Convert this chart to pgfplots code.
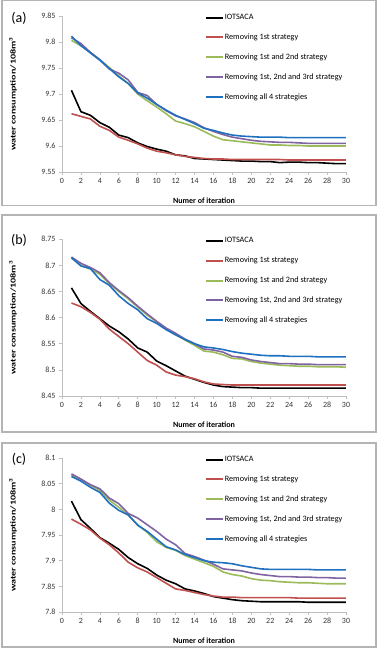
\documentclass[border=0pt]{standalone}
\usepackage{fontspec}
\setmainfont{Carlito}
\usepackage{pgfplots}
\pgfplotsset{compat=1.18}
\usepackage{pgfplotstable}
\definecolor{cRed}{HTML}{C0504D}
\definecolor{cGreen}{HTML}{9BBB59}
\definecolor{cPurple}{HTML}{8064A2}
\definecolor{cBlue}{HTML}{2070C0}
\definecolor{frameGray}{HTML}{B4B4B4}
\definecolor{axGray}{HTML}{BFBFBF}

\pgfplotstableread{
it k r g p b
1 9.707 9.662 9.803 9.808 9.811
2 9.666 9.657 9.793 9.797 9.793
3 9.659 9.652 9.780 9.780 9.779
4 9.645 9.638 9.766 9.766 9.765
5 9.636 9.630 9.751 9.748 9.749
6 9.621 9.617 9.735 9.740 9.733
7 9.616 9.611 9.720 9.727 9.720
8 9.606 9.604 9.700 9.703 9.702
9 9.599 9.596 9.687 9.697 9.692
10 9.594 9.590 9.675 9.680 9.680
11 9.590 9.587 9.662 9.668 9.669
12 9.583 9.583 9.648 9.658 9.659
13 9.581 9.580 9.643 9.652 9.651
14 9.576 9.578 9.637 9.645 9.643
15 9.575 9.576 9.628 9.635 9.634
16 9.574 9.575 9.619 9.628 9.630
17 9.573 9.575 9.612 9.622 9.625
18 9.572 9.574 9.610 9.617 9.621
19 9.571 9.574 9.608 9.614 9.619
20 9.571 9.574 9.606 9.611 9.618
21 9.570 9.574 9.604 9.609 9.617
22 9.570 9.574 9.602 9.608 9.617
23 9.568 9.574 9.602 9.607 9.617
24 9.569 9.573 9.601 9.607 9.616
25 9.569 9.573 9.601 9.606 9.616
26 9.568 9.573 9.600 9.605 9.616
27 9.568 9.573 9.600 9.605 9.616
28 9.567 9.573 9.600 9.605 9.616
29 9.566 9.573 9.600 9.605 9.616
30 9.566 9.573 9.600 9.605 9.616
}\dataA

\pgfplotstableread{
it k r g p b
1 8.657 8.628 8.714 8.716 8.715
2 8.627 8.621 8.700 8.704 8.699
3 8.612 8.610 8.693 8.696 8.694
4 8.598 8.597 8.683 8.686 8.673
5 8.584 8.578 8.665 8.667 8.662
6 8.573 8.564 8.650 8.652 8.642
7 8.559 8.550 8.636 8.638 8.627
8 8.542 8.534 8.620 8.622 8.615
9 8.534 8.518 8.605 8.607 8.598
10 8.517 8.509 8.592 8.593 8.589
11 8.508 8.496 8.579 8.580 8.577
12 8.498 8.490 8.568 8.570 8.567
13 8.488 8.487 8.557 8.559 8.558
14 8.482 8.483 8.547 8.550 8.550
15 8.476 8.477 8.536 8.540 8.544
16 8.471 8.473 8.534 8.538 8.542
17 8.468 8.472 8.529 8.534 8.539
18 8.467 8.471 8.522 8.526 8.535
19 8.466 8.471 8.521 8.524 8.532
20 8.466 8.471 8.516 8.519 8.530
21 8.465 8.471 8.513 8.516 8.528
22 8.465 8.471 8.511 8.514 8.527
23 8.465 8.471 8.509 8.512 8.527
24 8.465 8.471 8.508 8.512 8.526
25 8.465 8.471 8.507 8.511 8.526
26 8.465 8.471 8.507 8.511 8.526
27 8.465 8.471 8.506 8.510 8.525
28 8.465 8.471 8.506 8.510 8.525
29 8.465 8.471 8.506 8.510 8.525
30 8.465 8.471 8.505 8.510 8.525
}\dataB

\pgfplotstableread{
it k r g p b
1 8.016 7.981 8.067 8.069 8.064
2 7.980 7.971 8.058 8.059 8.055
3 7.963 7.960 8.047 8.048 8.043
4 7.945 7.944 8.037 8.040 8.033
5 7.934 7.931 8.018 8.022 8.012
6 7.922 7.915 8.004 8.011 7.998
7 7.906 7.897 7.989 7.992 7.989
8 7.894 7.886 7.970 7.983 7.969
9 7.885 7.878 7.955 7.970 7.957
10 7.872 7.867 7.937 7.957 7.942
11 7.862 7.856 7.926 7.942 7.927
12 7.855 7.845 7.920 7.931 7.921
13 7.845 7.842 7.910 7.914 7.912
14 7.841 7.838 7.903 7.908 7.906
15 7.836 7.834 7.896 7.901 7.900
16 7.830 7.831 7.889 7.893 7.897
17 7.827 7.829 7.878 7.884 7.896
18 7.824 7.829 7.873 7.882 7.894
19 7.822 7.828 7.870 7.880 7.890
20 7.821 7.828 7.865 7.876 7.887
21 7.820 7.828 7.862 7.873 7.884
22 7.820 7.828 7.861 7.871 7.883
23 7.820 7.828 7.859 7.869 7.883
24 7.820 7.828 7.858 7.869 7.883
25 7.820 7.827 7.857 7.868 7.883
26 7.819 7.827 7.857 7.868 7.883
27 7.819 7.827 7.856 7.867 7.882
28 7.819 7.827 7.855 7.867 7.882
29 7.819 7.827 7.855 7.866 7.882
30 7.819 7.827 7.855 7.866 7.882
}\dataC

\pgfplotsset{
  panel/.style={
    scale only axis, width=284pt,
    xmin=0, xmax=30, xtick={0,2,...,30},
    axis x line*=bottom, axis y line*=left,
    axis line style={draw=axGray, line width=0.6pt, -},
    tick style={draw=axGray, line width=0.6pt},
    tick align=outside, major tick length=3pt,
    tick label style={font=\fontsize{8}{9}\selectfont, text=black!80},
    /pgf/number format/assume math mode=true,
    y tick label style={/pgf/number format/.cd, fixed, precision=2},
    every axis y label/.style={at={(axis description cs:0,0.5)}, xshift=-49pt, rotate=90, anchor=center,
      font=\bfseries\fontsize{7.5}{8}\selectfont},
    every axis x label/.style={at={(axis description cs:0.5,0)}, yshift=-29pt, anchor=center,
      font=\bfseries\fontsize{8}{9}\selectfont},
    ylabel={\scalebox{1.35}[1]{water consumption/108m\textsuperscript{3}}},
    xlabel={Numer of iteration},
    every axis plot/.append style={line width=1.6pt, line join=round},
    legend style={at={(axis description cs:0.493,1)}, anchor=north west, yshift=4.5pt,
      draw=none, fill=none, font=\fontsize{8.2}{9}\selectfont, row sep=11.5pt,
      nodes={inner sep=0.6pt}},
    legend cell align=left,
    legend image code/.code={\draw[#1, line width=2pt] (0pt,0pt) -- (17pt,0pt);},
  }
}

\begin{document}
\begin{tikzpicture}
\useasboundingbox (0pt,0pt) rectangle (378pt,648pt);
\draw[frameGray, line width=1.2pt] (2pt,442.5pt) rectangle (376pt,647.2pt);
\draw[frameGray, line width=1.2pt] (2pt,216pt) rectangle (376pt,433pt);
\draw[frameGray, line width=1.2pt] (2pt,1pt) rectangle (376pt,205pt);

\begin{axis}[panel, at={(62pt,476pt)}, anchor=south west, height=156pt, ymin=9.55, ymax=9.85, ytick={9.55,9.6,...,9.86}]
\addplot[black] table[x=it,y=k]{\dataA};
\addplot[cRed] table[x=it,y=r]{\dataA};
\addplot[cGreen] table[x=it,y=g]{\dataA};
\addplot[cPurple] table[x=it,y=p]{\dataA};
\addplot[cBlue] table[x=it,y=b]{\dataA};
\legend{IOTSACA, Removing 1st strategy, Removing 1st and 2nd strategy, {Removing 1st, 2nd and 3rd strategy}, Removing all 4 strategies}
\end{axis}
\node[font=\fontsize{14}{16}\selectfont] at (19pt,630pt) {(a)};

\begin{axis}[panel, at={(62pt,252pt)}, anchor=south west, height=156.7pt, ymin=8.45, ymax=8.75, ytick={8.45,8.5,...,8.76}]
\addplot[black] table[x=it,y=k]{\dataB};
\addplot[cRed] table[x=it,y=r]{\dataB};
\addplot[cGreen] table[x=it,y=g]{\dataB};
\addplot[cPurple] table[x=it,y=p]{\dataB};
\addplot[cBlue] table[x=it,y=b]{\dataB};
\legend{IOTSACA, Removing 1st strategy, Removing 1st and 2nd strategy, {Removing 1st, 2nd and 3rd strategy}, Removing all 4 strategies}
\end{axis}
\node[font=\fontsize{14}{16}\selectfont] at (19pt,408pt) {(b)};

\begin{axis}[panel, at={(62pt,36pt)}, anchor=south west, height=154pt, ymin=7.8, ymax=8.1, ytick={7.8,7.85,...,8.11}]
\addplot[black] table[x=it,y=k]{\dataC};
\addplot[cRed] table[x=it,y=r]{\dataC};
\addplot[cGreen] table[x=it,y=g]{\dataC};
\addplot[cPurple] table[x=it,y=p]{\dataC};
\addplot[cBlue] table[x=it,y=b]{\dataC};
\legend{IOTSACA, Removing 1st strategy, Removing 1st and 2nd strategy, {Removing 1st, 2nd and 3rd strategy}, Removing all 4 strategies}
\end{axis}
\node[font=\fontsize{14}{16}\selectfont] at (19pt,189pt) {(c)};
\end{tikzpicture}
\end{document}
